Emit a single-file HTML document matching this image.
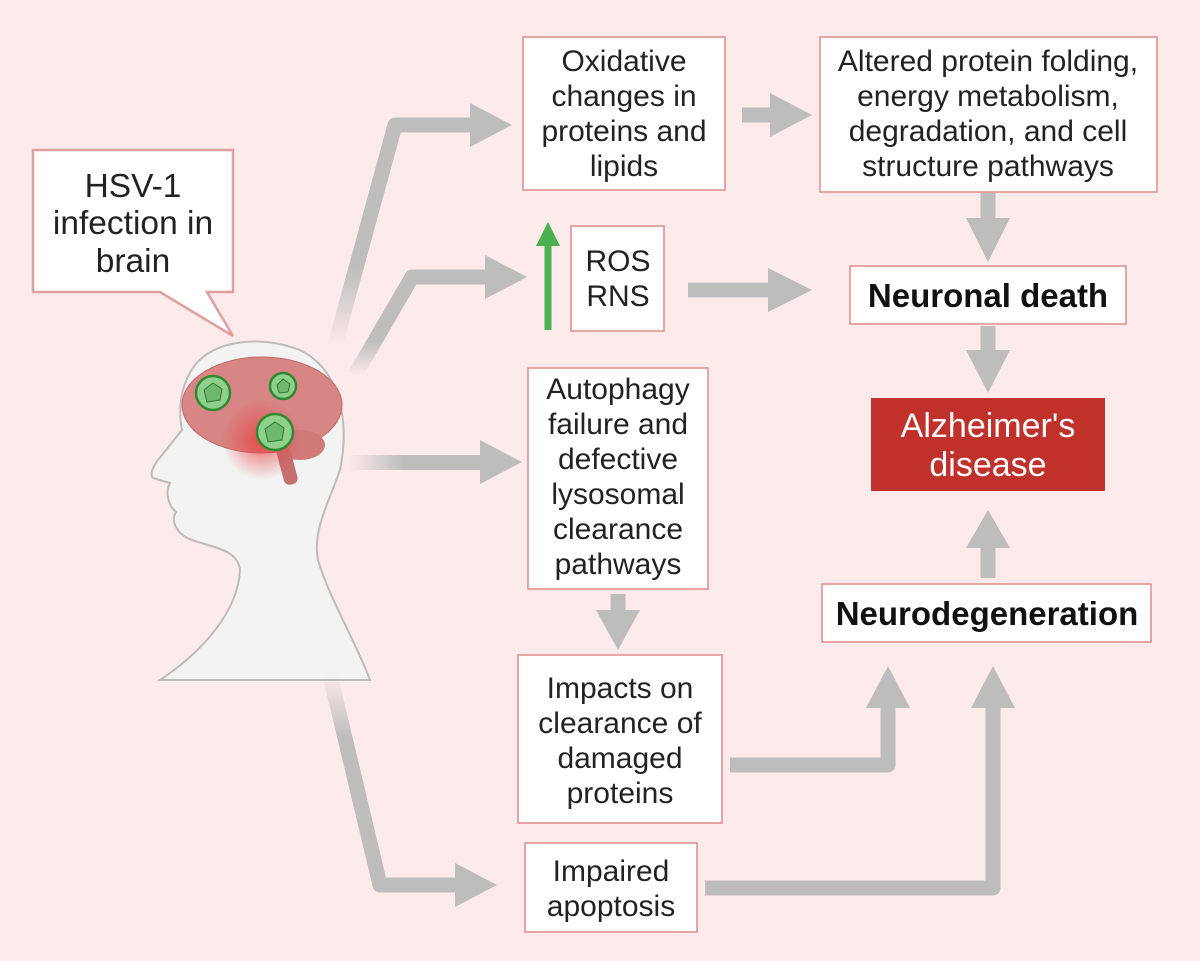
<!DOCTYPE html>
<html><head><meta charset="utf-8"><style>
body{margin:0;background:#fdeaea;}
svg{display:block;font-family:"Liberation Sans",sans-serif;}
</style></head><body>
<svg width="1200" height="961" viewBox="0 0 1200 961" xmlns="http://www.w3.org/2000/svg">
<defs>
<linearGradient id="g1" x1="0" y1="1" x2="0" y2="0"><stop offset="0" stop-color="#bdbdbd" stop-opacity="0"/><stop offset="0.35" stop-color="#bdbdbd"/></linearGradient>
<linearGradient id="g2" x1="0" y1="0" x2="1" y2="0"><stop offset="0" stop-color="#bdbdbd" stop-opacity="0"/><stop offset="0.4" stop-color="#bdbdbd"/></linearGradient>
<linearGradient id="g3" x1="0" y1="0" x2="0" y2="1"><stop offset="0" stop-color="#bdbdbd" stop-opacity="0"/><stop offset="0.3" stop-color="#bdbdbd"/></linearGradient>
<radialGradient id="rg" cx="0.5" cy="0.5" r="0.5"><stop offset="0" stop-color="#e84040" stop-opacity="0.8"/><stop offset="1" stop-color="#e84040" stop-opacity="0"/></radialGradient>
</defs>
<rect width="1200" height="961" fill="#fdeaea"/>

<!-- head -->
<path d="M370,680 C355,640 330,600 318,560 C312,530 330,500 340,470 C350,420 340,370 300,350 C260,335 215,340 195,365 C180,385 178,410 182,430 L158,460 C152,468 150,475 153,478 L170,483 C165,492 168,505 176,512 C170,522 178,535 192,540 C215,548 238,550 240,570 C238,610 205,650 160,680 Z" fill="#f3f3f3" stroke="#bcbcbc" stroke-width="2"/>
<ellipse cx="262" cy="405" rx="80" ry="48" fill="#d88585" stroke="#c06a6a"/>
<ellipse cx="300" cy="445" rx="25" ry="15" fill="#d07a7a"/>
<rect x="280" y="445" width="14" height="40" rx="6" fill="#c57070" transform="rotate(-15 287 465)"/>
<circle cx="262" cy="440" r="40" fill="url(#rg)"/>
<g fill="#8fd08f" stroke="#2f8a2f" stroke-width="2.5">
<circle cx="213" cy="393" r="17"/><circle cx="283" cy="386" r="13"/><circle cx="275" cy="432" r="18"/>
</g>
<g fill="#6fb86f" stroke="#2f7a2f"><polygon points="213,383 222,389 220,400 207,402 204,390"/><polygon points="283,379 290,384 288,392 279,393 277,385"/><polygon points="275,422 284,428 282,440 268,442 265,429"/></g>

<!-- arrows from head -->
<g fill="none" stroke-width="15" stroke-linejoin="round">
<polyline points="335,345 395,125 475,125" stroke="url(#g1)"/>
<polyline points="355,375 412,277 490,277" stroke="url(#g1)"/>
<polyline points="330,675 380,885 460,885" stroke="url(#g3)"/>
</g>
<rect x="350" y="455" width="135" height="15" fill="url(#g2)"/>
<g fill="#bdbdbd">
<polygon points="470,103 512,125 470,147"/>
<polygon points="485,255 527,277 485,299"/>
<polygon points="480,440 522,462 480,484"/>
<polygon points="455,863 497,885 455,907"/>
</g>

<!-- other arrows -->
<g fill="none" stroke="#bdbdbd" stroke-width="15" stroke-linejoin="round">
<line x1="742" y1="115" x2="775" y2="115"/>
<line x1="688" y1="290" x2="770" y2="290"/>
<line x1="988" y1="193" x2="988" y2="222"/>
<line x1="988" y1="326" x2="988" y2="355"/>
<line x1="988" y1="578" x2="988" y2="540"/>
<line x1="618" y1="594" x2="618" y2="615"/>
<polyline points="730,765 888,765 888,705"/>
<polyline points="705,888 993,888 993,705"/>
</g>
<g fill="#bdbdbd">
<polygon points="770,93 812,115 770,137"/>
<polygon points="768,268 812,290 768,312"/>
<polygon points="966,218 988,262 1010,218"/>
<polygon points="966,350 988,393 1010,350"/>
<polygon points="966,548 988,510 1010,548"/>
<polygon points="596,610 618,650 640,610"/>
<polygon points="866,708 888,666 910,708"/>
<polygon points="971,708 993,666 1015,708"/>
</g>

<!-- green arrow -->
<line x1="548" y1="330" x2="548" y2="240" stroke="#4caf50" stroke-width="7"/>
<polygon points="536,246 548,222 560,246" fill="#4caf50"/>

<!-- speech bubble -->
<path d="M33,150 H233 V292 H207 L233,336 L160,292 H33 Z" fill="#fff" stroke="#e0a0a0" stroke-width="2.5"/>
<g font-size="33.5" fill="#222" text-anchor="middle">
<text x="133" y="197">HSV-1</text><text x="133" y="234">infection in</text><text x="133" y="272">brain</text>
</g>

<!-- boxes -->
<g fill="#fff" stroke="#e08a8a" stroke-width="1.5">
<rect x="523" y="37" width="202" height="153"/>
<rect x="820" y="37" width="337" height="155"/>
<rect x="571" y="226" width="93" height="105"/>
<rect x="850" y="266" width="276" height="58"/>
<rect x="528" y="368" width="180" height="221"/>
<rect x="518" y="655" width="204" height="168"/>
<rect x="822" y="584" width="329" height="58"/>
<rect x="525" y="843" width="172" height="89"/>
</g>
<rect x="871" y="398" width="234" height="93" fill="#c0312b"/>

<g font-size="30" fill="#222" text-anchor="middle">
<text x="624" y="71">Oxidative</text><text x="624" y="106">changes in</text><text x="624" y="141">proteins and</text><text x="624" y="176">lipids</text>
<text x="988" y="71">Altered protein folding,</text><text x="988" y="106">energy metabolism,</text><text x="988" y="141">degradation, and cell</text><text x="988" y="176">structure pathways</text>
<text x="618" y="271">ROS</text><text x="618" y="306">RNS</text>
<text x="618" y="399">Autophagy</text><text x="618" y="434">failure and</text><text x="618" y="469">defective</text><text x="618" y="504">lysosomal</text><text x="618" y="539">clearance</text><text x="618" y="574">pathways</text>
<text x="620" y="698">Impacts on</text><text x="620" y="733">clearance of</text><text x="620" y="768">damaged</text><text x="620" y="803">proteins</text>
<text x="611" y="881">Impaired</text><text x="611" y="916">apoptosis</text>
</g>
<g font-size="33" font-weight="bold" fill="#111" text-anchor="middle">
<text x="988" y="307">Neuronal death</text>
<text x="987" y="625">Neurodegeneration</text>
</g>
<g font-size="34" fill="#fff" text-anchor="middle">
<text x="988" y="437">Alzheimer's</text><text x="988" y="476">disease</text>
</g>
</svg>
</body></html>
